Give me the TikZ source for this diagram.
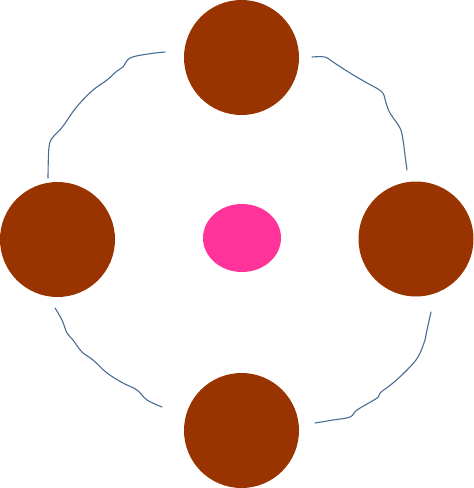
\documentclass[tikz,border=0pt]{standalone}
\usepackage{tikz}
\usetikzlibrary{shapes.geometric}
\definecolor{ballbrown}{HTML}{993300}
\definecolor{corepink}{HTML}{FF3399}
\definecolor{orbitblue}{HTML}{4A6C93}
\pgfmathsetmacro{\balldiam}{115}
\tikzset{
  ball/.style={circle, fill=ballbrown, inner sep=0pt, minimum size=\balldiam pt},
  core/.style={ellipse, fill=corepink, inner sep=0pt, minimum width=78pt, minimum height=68pt},
  orbit/.style={draw=orbitblue, line width=1.1pt, line join=round, line cap=round},
}
\begin{document}
\begin{tikzpicture}[x=1pt, y=-1pt]
    \useasboundingbox (0,0) rectangle (474,488);
    % define balls
    \node[ball] (b_top) at (241.5, 57.5) {};
    \node[ball] (b_left) at (57.5, 239.5) {};
    \node[ball] (b_right) at (416, 239) {};
    \node[ball] (b_bottom) at (241.5, 430.5) {};
    % centre
    \node[core] (centre) at (242, 238) {};
    % hand drawn orbit pieces
    % top left
    \draw[orbit] plot[smooth, tension=0.6] coordinates {(165,52) (148,54) (130,58) (123,67) (117,71) (107,80)
        (93,90) (80,103) (72,113) (66,122) (60,130) (53,137) (49,147) (48,178)};
    % top right
    \draw[orbit] plot[smooth, tension=0.6] coordinates {(312,57) (325,57) (333,62) (350,73) (367,83) (382,92)
        (386,103) (390,113) (400,128) (403,140) (405,155) (407,170)};
    % bottom left
    \draw[orbit] plot[smooth, tension=0.6] coordinates {(55,308) (62,320) (67,333) (73,340) (82,352) (93,360)
        (107,373) (123,383) (137,390) (147,400) (162,407)};
    % bottom right
    \draw[orbit] plot[smooth, tension=0.6] coordinates {(315,423) (333,420) (350,417) (357,410) (377,398) (380,393)
        (393,383) (407,370) (418,357) (425,340) (427,330) (431,312)};
\end{tikzpicture}
\end{document}
